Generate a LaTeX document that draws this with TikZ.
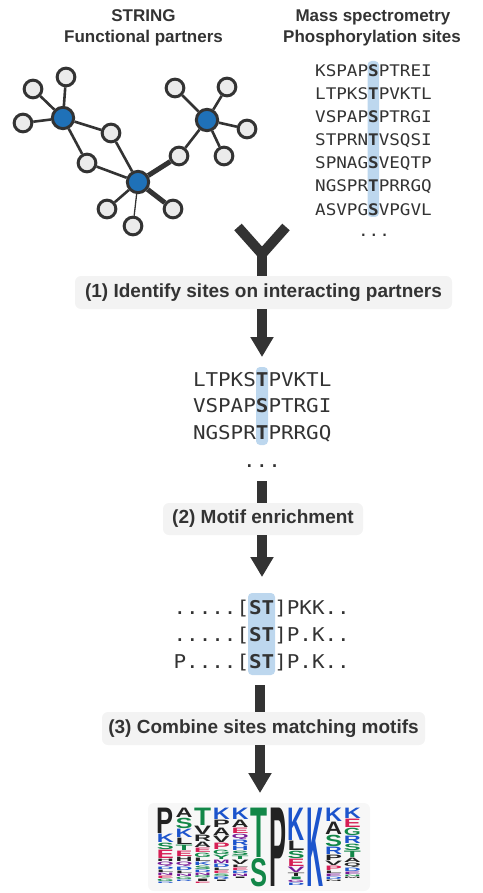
\documentclass[tikz,border=0pt]{standalone}
\usepackage{fontspec}
\usepackage{graphicx}
\setmainfont{Liberation Sans}
\newfontfamily\seqfont[FakeStretch=1.1]{DejaVu Sans Mono}
\newfontfamily\logofont{Liberation Sans}
\usetikzlibrary{arrows.meta,backgrounds}

\definecolor{ink}{HTML}{333333}
\definecolor{hubblue}{HTML}{1F71B8}
\definecolor{leafgray}{HTML}{EBEBEB}
\definecolor{boxgray}{HTML}{F3F3F3}
\definecolor{siteblue}{HTML}{BDD7EE}
\definecolor{lgreen}{RGB}{18,135,72}
\definecolor{lblue}{RGB}{28,84,204}
\definecolor{lred}{RGB}{214,30,84}
\definecolor{lpurple}{RGB}{118,26,150}
\definecolor{lblack}{HTML}{222222}

\newcommand{\site}[1]{\textbf{#1}}
% one column of the sequence logo, letters stacked from the top
\newcommand{\logocol}[2]{%
  \pgfmathsetmacro\logox{156.8+18.7*(#1-1)}%
  \xdef\logotop{808}%
  \foreach \lc/\lh/\ll [count=\li] in {#2}{%
    \pgfmathsetmacro\lhh{\lh-0.6}%
    \node[logoletter, text=\lc] (logo-#1-\li) at (\logox,\logotop) {\resizebox*{17pt}{\lhh pt}{\ll}};
    \pgfmathsetmacro\lnext{\logotop+\lh}%
    \xdef\logotop{\lnext}}}

\begin{document}
\begin{tikzpicture}[x=1pt, y=-1pt,
    link/.style       = {draw=ink, line width=2.6pt},
    leaf/.style       = {circle, draw=ink, line width=3pt, fill=leafgray, minimum size=17.7pt, inner sep=0pt},
    hub/.style        = {circle, draw=ink, line width=3pt, fill=hubblue, minimum size=21.3pt, inner sep=0pt},
    title/.style      = {anchor=base, inner sep=0pt, text=ink, font=\bfseries\fontsize{17}{20}\selectfont},
    stepbox/.style    = {fill=boxgray, rounded corners=6pt, inner sep=0pt, minimum height=33pt, text=ink, font=\bfseries\fontsize{19}{22}\selectfont},
    seqsmall/.style   = {anchor=base west, inner sep=0pt, text=ink, font=\seqfont\fontsize{16}{20}\selectfont},
    seqbig/.style     = {anchor=base west, inner sep=0pt, text=ink, font=\seqfont\fontsize{19}{24}\selectfont},
    sitebar/.style    = {fill=siteblue, rounded corners=4pt},
    flow/.style       = {draw=ink, line width=10pt},
    flowarrow/.style  = {flow, -{Triangle[width=22pt,length=20pt]}},
    logoletter/.style = {anchor=north west, inner sep=0pt, outer sep=0pt, font=\logofont\bfseries}]
        \useasboundingbox (0,0) rectangle (482,893);

        % column headers
        \node[title] (stringtop) at (143.5,22) {STRING};
        \node[title] (stringsub) at (143.5,43) {Functional partners};
        \node[title] (mstop)     at (373,  22) {Mass spectrometry};
        \node[title] (mssub)     at (372,  43) {Phosphorylation sites};

        % interaction network
        \node[hub]  (hubL) at ( 63, 118) {};
        \node[hub]  (hubC) at (138, 182) {};
        \node[hub]  (hubR) at (207, 120) {};
        \node[leaf] (a1)   at ( 66,  77) {};
        \node[leaf] (a2)   at ( 33,  89) {};
        \node[leaf] (a3)   at ( 23, 123) {};
        \node[leaf] (m1)   at (111, 133) {};
        \node[leaf] (m2)   at ( 87, 163) {};
        \node[leaf] (m3)   at (179, 156) {};
        \node[leaf] (r1)   at (175,  88) {};
        \node[leaf] (r2)   at (227,  87) {};
        \node[leaf] (r3)   at (247, 129) {};
        \node[leaf] (r4)   at (224, 156) {};
        \node[leaf] (b1)   at (107, 209) {};
        \node[leaf] (b2)   at (133, 226) {};
        \node[leaf] (b3)   at (173, 209) {};
        \begin{scope}[on background layer]
        \draw[link] (hubL) -- (a1);
        \draw[link] (hubL) -- (a2);
        \draw[link] (hubL) -- (a3);
        \draw[link] (hubL) -- (m1);
        \draw[link] (hubL) -- (m2);
        \draw[link] (m1) -- (hubC);
        \draw[link] (m2) -- (hubC);
        \draw[link, line width=5pt] (hubC) -- (m3);
        \draw[link] (m3) -- (hubR);
        \draw[link] (hubR) -- (r1);
        \draw[link] (hubR) -- (r2);
        \draw[link] (hubR) -- (r3);
        \draw[link] (hubR) -- (r4);
        \draw[link] (hubC) -- (b1);
        \draw[link, line width=1.3pt] (hubC) -- (b2);
        \draw[link, line width=5pt] (hubC) -- (b3);
        \end{scope}

        % phosphosites
        \fill[sitebar] (367.5,61) rectangle (379,217);
        \foreach \s [count=\i] in {KSPAP\site{S}PTREI, LTPKS\site{T}PVKTL, VSPAP\site{S}PTRGI,
                                    STPRN\site{T}VSQSI, SPNAG\site{S}VEQTP, NGSPR\site{T}PRRGQ,
                                    ASVPG\site{S}VPGVL}
            \node[seqsmall] (ms-\i) at (315, 54+23*\i) {\s};
        \node[seqsmall, anchor=base] (msdots) at (374, 236.5) {...};

        % merge into step 1
        \coordinate (forkL) at (238, 227);
        \coordinate (forkR) at (286, 227);
        \coordinate (fork)  at (262, 254);
        \node[stepbox, minimum width=377pt] (step1) at (263.5, 292.5) {(1) Identify sites on interacting partners};
        \draw[flow] (forkL) -- (fork) -- (forkR);
        \draw[flow] (fork) -- (step1.north -| fork);
        \coordinate (tip1) at (262, 357);
        \draw[flowarrow] (step1.south -| tip1) -- (tip1);

        % sites on partners
        \fill[sitebar] (256,367) rectangle (268,445);
        \foreach \s [count=\i] in {LTPKS\site{T}PVKTL, VSPAP\site{S}PTRGI, NGSPR\site{T}PRRGQ}
            \node[seqbig] (hit-\i) at (192.8, 359.5+26.5*\i) {\s};
        \node[seqbig, anchor=base] (hitdots) at (262, 467) {...};

        % step 2
        \coordinate (stem2) at (262, 481);
        \node[stepbox, minimum width=200pt, minimum height=32pt] (step2) at (263, 519) {(2) Motif enrichment};
        \draw[flow] (stem2) -- (step2.north -| stem2);
        \coordinate (tip2) at (262, 577);
        \draw[flowarrow] (step2.south -| tip2) -- (tip2);

        % motifs
        \fill[sitebar] (248,593) rectangle (275,675);
        \node[seqbig] (motif-1) at (173.4, 614) {.....[\site{ST}]PKK..};
        \node[seqbig] (motif-2) at (173.4, 641) {.....[\site{ST}]P.K..};
        \node[seqbig] (motif-3) at (173.4, 668) {P....[\site{ST}]P.K..};

        % step 3
        \coordinate (stem3) at (260, 685);
        \node[stepbox, minimum width=323pt] (step3) at (263.5, 728.5) {(3) Combine sites matching motifs};
        \draw[flow] (stem3) -- (step3.north -| stem3);
        \coordinate (tip3) at (260, 793);
        \draw[flowarrow] (step3.south -| tip3) -- (tip3);

        % sequence logo
        \node[fill=boxgray!70!white, rounded corners=6pt, minimum width=222pt, minimum height=88pt] (logobox) at (259, 847) {};
        \logocol{1}{lblack/26/P, lblue/9/K, lgreen/7/S, lred/9/E, lblack/3/H, lpurple/5/Q, lblue/3/D, lblack/3/L, lpurple/3/N, lred/3/E, lgreen/3/G, lblue/2/D}
        \logocol{2}{lblack/10/A, lgreen/11/S, lblue/9/K, lblack/7/L, lgreen/6/T, lred/6/E, lblack/5/H, lpurple/5/Q, lblue/4/D, lblack/3/L, lpurple/3/N, lgreen/3/G, lblue/2/R}
        \logocol{3}{lgreen/18/T, lblack/9/V, lblack/7/R, lblack/6/A, lred/5/E, lgreen/5/G, lblack/4/L, lblue/4/K, lgreen/4/S, lblue/3/D, lpurple/3/N, lgreen/3/Q, lblack/3/I, lred/2/E}
        \logocol{4}{lblue/12/K, lblack/8/P, lblack/8/A, lblack/7/V, lred/7/P, lgreen/5/G, lgreen/5/Y, lpurple/4/M, lblue/4/D, lblack/3/L, lred/3/E, lgreen/3/S, lblue/3/R, lblack/2/I}
        \logocol{5}{lblue/12/K, lblack/8/A, lred/6/E, lpurple/6/Q, lblue/6/R, lblue/5/H, lgreen/5/S, lgreen/4/T, lblack/5/V, lblack/3/L, lred/3/E, lblue/3/D, lpurple/3/N, lblack/2/I}
        \logocol{6}{lgreen/50/T, lgreen/29/S}
        \logocol{7}{lblack/79/P}
        \logocol{8}{lblue/33/K, lblack/10/L, lgreen/8/S, lred/8/E, lpurple/6/V, lblack/4/T, lgreen/3/I, lpurple/3/G, lblue/3/D}
        \logocol{9}{lblue/79/K}
        \logocol{10}{lblue/14/K, lblack/13/A, lgreen/12/S, lblue/8/R, lblack/6/P, lblack/5/V, lred/5/P, lblack/3/L, lpurple/3/E, lblue/3/D, lblack/2/N}
        \logocol{11}{lblue/11/K, lred/9/E, lgreen/8/G, lblue/8/R, lgreen/7/S, lgreen/7/T, lblack/5/A, lblack/5/Q, lblue/4/D, lpurple/3/E, lgreen/2/N, lblack/2/M}
      \end{tikzpicture}
\end{document}
